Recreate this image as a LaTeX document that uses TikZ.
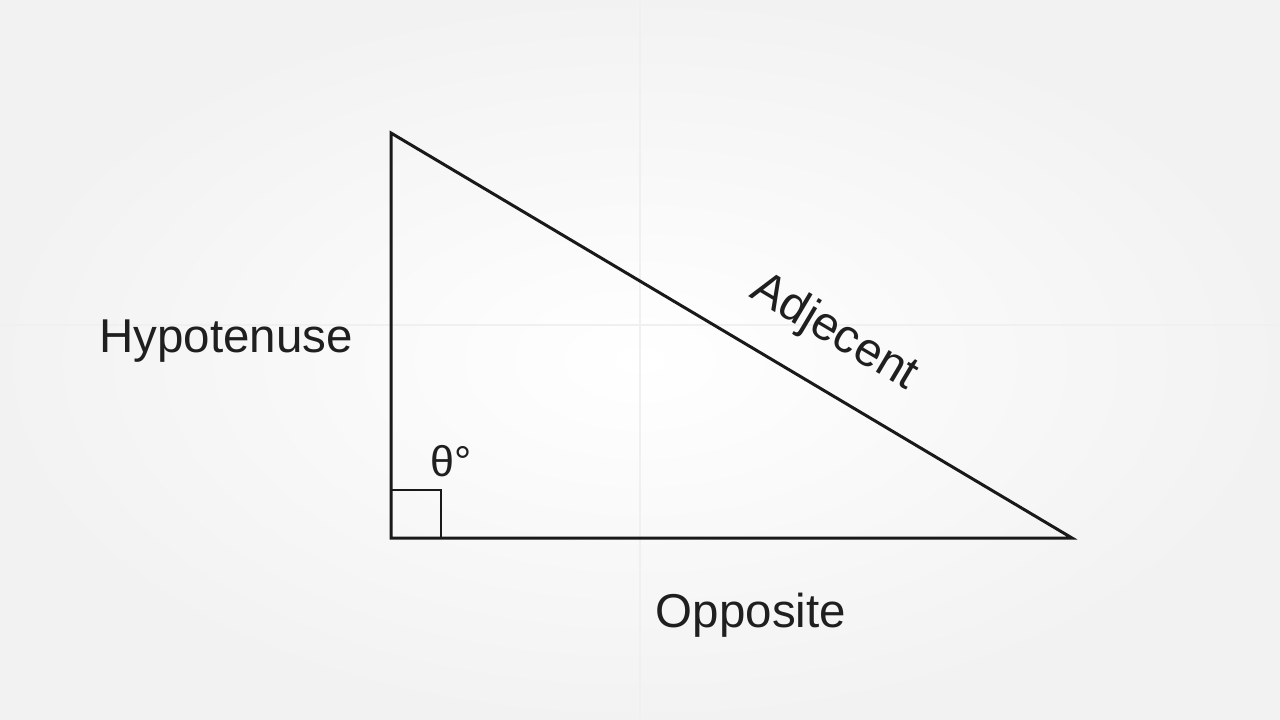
\documentclass[tikz,border=0pt]{standalone}
\usepackage{fontspec}
\setmainfont{Liberation Sans}
\begin{document}
\begin{tikzpicture}[x=1pt,y=-1pt,
  edge/.style={line width=3pt,draw=black!90,line join=miter},
  lbl/.style={text=black!88,font=\fontsize{47.5}{52}\selectfont,inner sep=0pt}]
\useasboundingbox (0,0) rectangle (1280,720);
\shade[inner color=white,outer color=black!5] (0,0) rectangle (1280,720);
\draw[black!6,line width=1.2pt] (640,0) -- (640,720);
\draw[black!6,line width=1.2pt] (0,325) -- (1280,325);
\coordinate (A) at (391,133);
\coordinate (C) at (391,538);
\coordinate (B) at (1072,538);
\draw[edge] (A) -- (C) -- (B) -- cycle;
\draw[line width=2.6pt,black!90] (391,490) -- (441,490) -- (441,538);
\node[lbl] (hyp) at (226,341) {Hypotenuse};
\node[lbl] (opp) at (751,615) {Opposite};
\node[lbl,rotate=-30.7] (adj) at (834,333) {Adjecent};
\node[lbl,font=\fontsize{43}{46}\selectfont] (theta) at (451,461) {θ°};
\end{tikzpicture}
\end{document}
